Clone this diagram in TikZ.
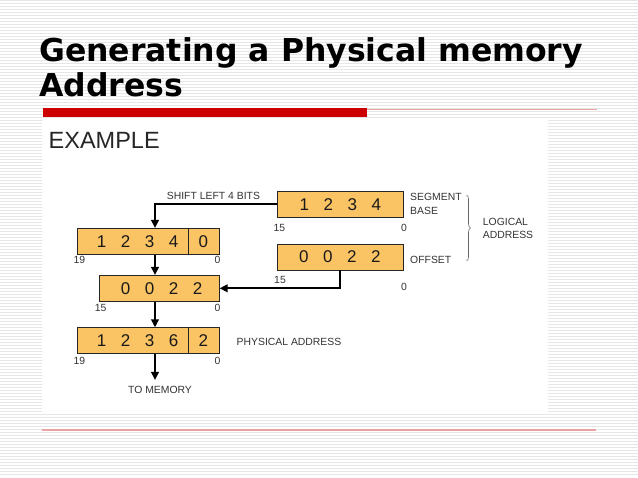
\documentclass[tikz,border=0pt]{standalone}
\usepackage{fontspec}
\setmainfont{Liberation Sans}
\newfontfamily\titlefont{DejaVu Sans}
\usetikzlibrary{arrows.meta,decorations.pathreplacing,calc}
\definecolor{boxfill}{HTML}{FAC465}
\definecolor{barred}{HTML}{CC0000}
\definecolor{pinkline}{HTML}{E9A3A3}
\definecolor{stripegray}{HTML}{E6E6E6}
\tikzset{
  regbox/.style={draw=black!85, line width=0.6pt, fill=boxfill, minimum height=26pt, inner sep=0pt},
  dig/.style={font=\fontsize{17}{17}\selectfont, text=black!90, inner sep=0pt},
  lbl/.style={font=\fontsize{10.4}{13.4}\selectfont, text=black!80, inner sep=0pt, align=left},
  conn/.style={line width=2.4pt, -{Triangle[length=8pt,width=7.5pt]}},
  plainconn/.style={line width=2.4pt},
  titletext/.style={font=\titlefont\bfseries\fontsize{31.5}{35}\selectfont, inner sep=0pt, anchor=base west}
}
\begin{document}
\begin{tikzpicture}[x=1pt,y=-1pt]
\useasboundingbox (0,0) rectangle (638,478);
\fill[white] (0,0) rectangle (638,478);
\foreach \yy in {1,4,...,477} \draw[stripegray, line width=1pt] (0,\yy) -- (638,\yy);
% title
\node[titletext] (t1) at (39,62) {Generating a Physical memory};
\node[titletext] (t2) at (39,97) {Address};
\fill[barred] (42.5,108.3) rectangle (367,116.7);
\draw[pinkline, line width=1.6pt] (367,109.5) -- (597,109.5);
\draw[pinkline, line width=1.6pt] (41.5,430) -- (596,430);
% panel
\fill[white] (42.3,119) rectangle (548,412);
\node[font=\fontsize{23.5}{23.5}\selectfont, text=black!85, inner sep=0pt, anchor=base west] (ex) at (48.5,148.3) {EXAMPLE};
% registers
\node[regbox, minimum width=126pt] (seg) at (340.3,204.3) {};
\node[regbox, minimum width=126pt] (off) at (340.3,257) {};
\node[regbox, minimum width=142pt] (r1) at (148.3,241.3) {};
\node[regbox, minimum width=120pt] (r2) at (159.3,288.3) {};
\node[regbox, minimum width=142pt] (r3) at (148.3,340.7) {};
\draw[black!85, line width=0.6pt] ($(r1.north west)+(111,0)$) -- ($(r1.south west)+(111,0)$);
\draw[black!85, line width=0.6pt] ($(r3.north west)+(111,0)$) -- ($(r3.south west)+(111,0)$);
% digits
\foreach \d [count=\i] in {1,2,3,4} \node[dig] (sd\i) at ($(seg)+(-36+\i*24-24,0)$) {\d};
\foreach \d [count=\i] in {0,0,2,2} \node[dig] (od\i) at ($(off)+(-36.5+\i*24-24,0)$) {\d};
\foreach \d [count=\i] in {1,2,3,4} \node[dig] (ad\i) at (77.7+\i*24,241.3) {\d};
\node[dig] (ad5) at (203.3,241.3) {0};
\foreach \d [count=\i] in {0,0,2,2} \node[dig] (bd\i) at (101.7+\i*24,288.3) {\d};
\foreach \d [count=\i] in {1,2,3,6} \node[dig] (cd\i) at (77.7+\i*24,340.7) {\d};
\node[dig] (cd5) at (203.3,340.7) {2};
% bit numbers
\node[lbl] (s15) at (279.3,228) {15};
\node[lbl] (s0) at (404,228) {0};
\node[lbl] (o15) at (280,280) {15};
\node[lbl] (o0) at (404,286.5) {0};
\node[lbl] (a19) at (79.3,260) {19};
\node[lbl] (a0) at (217.5,260) {0};
\node[lbl] (b15) at (100.7,308.3) {15};
\node[lbl] (b0) at (217.5,308.3) {0};
\node[lbl] (c19) at (79.3,360.7) {19};
\node[lbl] (c0) at (217.5,360.7) {0};
% labels
\node[lbl, anchor=west] (segl) at (410,204) {SEGMENT\\BASE};
\node[lbl, anchor=west] (offl) at (410,260) {OFFSET};
\node[lbl, anchor=west] (logl) at (482.7,228.2) {LOGICAL\\ADDRESS};
\node[lbl, anchor=west] (phys) at (236.5,342.3) {PHYSICAL ADDRESS};
\node[lbl, anchor=west] (shift) at (166.7,196) {SHIFT LEFT 4 BITS};
\draw[black!60, line width=0.6pt, decorate, decoration={brace, amplitude=4pt}] (466.5,195) -- (466.5,261);
% connectors
\coordinate (ax) at (155,0);
\coordinate (ox) at (340,0);
\coordinate (mem) at (155,380);
\node[lbl, anchor=center] (tomem) at (160,390) {TO MEMORY};
\draw[conn] (seg.west) -| (r1.north -| ax);
\draw[conn] (r1.south -| ax) -- (r2.north -| ax);
\draw[conn] (off.south -| ox) |- (r2.east);
\draw[conn] (r2.south -| ax) -- (r3.north -| ax);
\draw[conn] (r3.south -| ax) -- (mem);
\end{tikzpicture}
\end{document}
